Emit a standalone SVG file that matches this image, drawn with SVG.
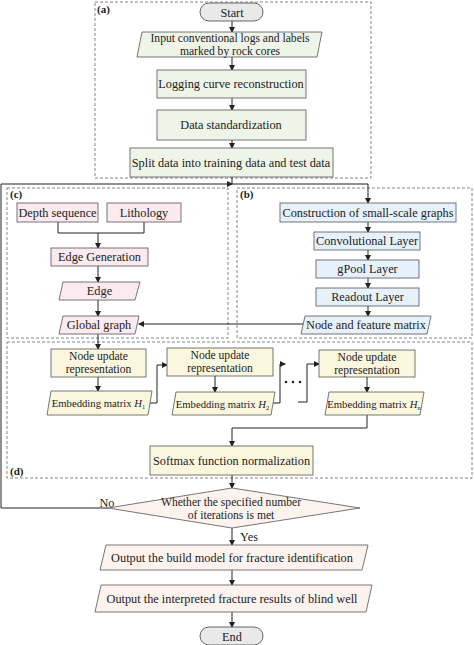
<svg xmlns="http://www.w3.org/2000/svg" width="474" height="645" viewBox="0 0 474 645" font-family="'Liberation Serif', 'Times New Roman', serif">
<defs>
<marker id="arr" markerWidth="6" markerHeight="6" refX="5" refY="3" orient="auto" markerUnits="userSpaceOnUse">
<path d="M0,0 L6,3 L0,6 Z" fill="#222"/>
</marker>
<style>
.t{font-family:'Liberation Serif','Times New Roman',serif;font-size:12.3px;fill:#222;text-anchor:middle;dominant-baseline:central}
.t2{font-size:11.6px}
.em{font-size:10.7px}
.lab{font-family:'Liberation Serif','Times New Roman',serif;font-size:11px;font-weight:bold;fill:#222}
.reg{fill:none;stroke:#777;stroke-width:0.9;stroke-dasharray:3,2}
.g{fill:#eef4e8;stroke:#666;stroke-width:0.9}
.p{fill:#fbeaef;stroke:#666;stroke-width:0.9}
.b{fill:#e6f1fa;stroke:#666;stroke-width:0.9}
.y{fill:#fbf7df;stroke:#666;stroke-width:0.9}
.o{fill:#fdf3ee;stroke:#666;stroke-width:0.9}
.s{fill:#e9e9e9;stroke:#555;stroke-width:0.9}
.c{fill:none;stroke:#222;stroke-width:1}
</style>
</defs>
<rect width="474" height="645" fill="#fff"/>
<g id="regions">
<rect class="reg" x="95" y="2" width="276" height="176"/>
<text class="lab" x="97" y="13">(a)</text>
<rect class="reg" x="7" y="188" width="221" height="150"/>
<text class="lab" x="10" y="198">(c)</text>
<rect class="reg" x="237" y="188" width="235" height="150"/>
<text class="lab" x="240" y="198">(b)</text>
<rect class="reg" x="7" y="342" width="465" height="136"/>
<text class="lab" x="10" y="475">(d)</text>
</g>
<g id="connectors">
<path class="c" d="M232,21 V32" marker-end="url(#arr)"/>
<path class="c" d="M232,57 V70" marker-end="url(#arr)"/>
<path class="c" d="M232,98 V110" marker-end="url(#arr)"/>
<path class="c" d="M232,140 V148" marker-end="url(#arr)"/>
<path class="c" d="M232,177 V184 H368 V203" marker-end="url(#arr)"/>
<path class="c" d="M108,508 H1 V184 H232" marker-end="url(#arr)"/>
<path class="c" d="M58,222 V233 H144 V222"/>
<path class="c" d="M98,233 V248" marker-end="url(#arr)"/>
<path class="c" d="M98,266 V282" marker-end="url(#arr)"/>
<path class="c" d="M98,300 V316" marker-end="url(#arr)"/>
<path class="c" d="M368,222 V232" marker-end="url(#arr)"/>
<path class="c" d="M368,250 V260" marker-end="url(#arr)"/>
<path class="c" d="M368,278 V288" marker-end="url(#arr)"/>
<path class="c" d="M368,306 V316" marker-end="url(#arr)"/>
<path class="c" d="M304,324 H139" marker-end="url(#arr)"/>
<path class="c" d="M98,334 V349" marker-end="url(#arr)"/>
<path class="c" d="M98,377 V391" marker-end="url(#arr)"/>
<path class="c" d="M215,376 V392" marker-end="url(#arr)"/>
<path class="c" d="M367,377 V392" marker-end="url(#arr)"/>
<path class="c" d="M150,403 H157 V365 H167" marker-end="url(#arr)"/>
<path class="c" d="M273,403 H280 V364 H285" marker-end="url(#arr)"/>
<path class="c" d="M298,402 H307 V364 H319" marker-end="url(#arr)"/>
<path class="c" d="M367,415 V428 H232 V446" marker-end="url(#arr)"/>
<path class="c" d="M232,475 V488" marker-end="url(#arr)"/>
<path class="c" d="M232,528 V545" marker-end="url(#arr)"/>
<path class="c" d="M232,570 V585" marker-end="url(#arr)"/>
<path class="c" d="M232,612 V627" marker-end="url(#arr)"/>
<g fill="#222"><circle cx="286" cy="382" r="1.3"/><circle cx="293" cy="382" r="1.3"/><circle cx="300" cy="382" r="1.3"/></g>
<text class="t" x="107" y="503">No</text>
<text class="t" x="249" y="537">Yes</text>
</g>
<g id="start"><rect class="s" x="200" y="3" width="63" height="18" rx="9"/><text class="t" x="232" y="12.5">Start</text></g>
<g id="input"><path class="g" d="M142,32 H322 L317,57 H137 Z"/><text class="t t2" x="230" y="38">Input conventional logs and labels</text><text class="t t2" x="230" y="51">marked by rock cores</text></g>
<g id="reconstruct"><rect class="g" x="157" y="70" width="149" height="28"/><text class="t" x="231" y="84">Logging curve reconstruction</text></g>
<g id="standard"><rect class="g" x="157" y="110" width="149" height="30"/><text class="t" x="231" y="125">Data  standardization</text></g>
<g id="split"><rect class="g" x="130" y="148" width="203" height="29"/><text class="t" x="231" y="163">Split data into training data and test data</text></g>
<g id="depth"><rect class="p" x="17" y="203" width="81" height="19"/><text class="t" x="57.5" y="212.5">Depth sequence</text></g>
<g id="litho"><rect class="p" x="107" y="203" width="74" height="19"/><text class="t" x="144" y="212.5">Lithology</text></g>
<g id="edgegen"><rect class="p" x="51" y="248" width="97" height="18"/><text class="t" x="99.5" y="257">Edge Generation</text></g>
<g id="edge"><path class="p" d="M63,282 H140 L135,300 H59 Z"/><text class="t" x="99.5" y="291">Edge</text></g>
<g id="global"><path class="p" d="M63,316 H139 L135,334 H59 Z"/><text class="t" x="99" y="325">Global graph</text></g>
<g id="construct"><rect class="b" x="280" y="203" width="176" height="19"/><text class="t" x="368" y="212.5">Construction of small-scale graphs</text></g>
<g id="conv"><rect class="b" x="314" y="232" width="106" height="18"/><text class="t" x="367" y="241">Convolutional Layer</text></g>
<g id="gpool"><rect class="b" x="316" y="260" width="103" height="18"/><text class="t" x="367.5" y="269">gPool Layer</text></g>
<g id="readout"><rect class="b" x="316" y="288" width="103" height="18"/><text class="t" x="367.5" y="297">Readout Layer</text></g>
<g id="nodefeat"><path class="b" d="M305,316 H431 L427,334 H301 Z"/><text class="t" x="366" y="325">Node and feature matrix</text></g>
<g id="nu1"><rect class="y" x="51" y="349" width="95" height="28"/><text class="t t2" x="98.5" y="356.5">Node  update</text><text class="t t2" x="98.5" y="369.5">representation</text></g>
<g id="h1"><path class="y" d="M51,391 H152 L148,415 H47 Z"/><text class="t em" x="98.5" y="403">Embedding matrix <tspan font-style="italic">H</tspan><tspan font-size="6.5" dy="3">1</tspan></text></g>
<g id="nu2"><rect class="y" x="167" y="348" width="106" height="28"/><text class="t t2" x="220" y="355.5">Node  update</text><text class="t t2" x="220" y="368.5">representation</text></g>
<g id="h2"><path class="y" d="M176,392 H275 L271,415 H172 Z"/><text class="t em" x="222.5" y="403.5">Embedding matrix <tspan font-style="italic">H</tspan><tspan font-size="6.5" dy="3">2</tspan></text></g>
<g id="nun"><rect class="y" x="319" y="350" width="96" height="27"/><text class="t t2" x="367" y="357">Node  update</text><text class="t t2" x="367" y="370">representation</text></g>
<g id="hn"><path class="y" d="M329,392 H424 L420,415 H325 Z"/><text class="t em" x="374" y="403.5">Embedding matrix <tspan font-style="italic">H</tspan><tspan font-size="6.5" dy="3">n</tspan></text></g>
<g id="softmax"><rect class="y" x="150" y="446" width="163" height="29"/><text class="t" x="231.5" y="461">Softmax function normalization</text></g>
<g id="decision"><path class="o" d="M232,488 L360,508 L232,528 L108,508 Z"/><text class="t t2" x="231" y="502">Whether the specified number</text><text class="t t2" x="231" y="515">of iterations is met</text></g>
<g id="outmodel"><path class="o" d="M106,545 H368 L362,570 H100 Z"/><text class="t" x="232" y="558">Output the build model for fracture identification</text></g>
<g id="outresult"><path class="o" d="M101,585 H372 L366,612 H95 Z"/><text class="t" x="232" y="599">Output the interpreted fracture results of blind well</text></g>
<g id="end"><rect class="s" x="200" y="627" width="63" height="18" rx="9"/><text class="t" x="232" y="636.5">End</text></g>
</svg>
